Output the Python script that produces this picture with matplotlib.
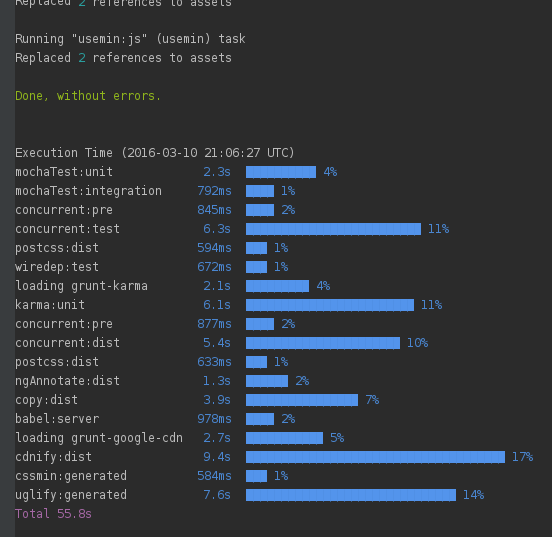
import matplotlib
matplotlib.use("Agg")
from matplotlib import pyplot as plt

# grunt time-grunt output, bar lengths counted in block characters
tasks = ["mochaTest:unit", "mochaTest:integration", "concurrent:pre", "concurrent:test",
         "postcss:dist", "wiredep:test", "loading grunt-karma", "karma:unit",
         "concurrent:pre", "concurrent:dist", "postcss:dist", "ngAnnotate:dist",
         "copy:dist", "babel:server", "loading grunt-google-cdn", "cdnify:dist",
         "cssmin:generated", "uglify:generated"]
times = ["2.3s", "792ms", "845ms", "6.3s", "594ms", "672ms", "2.1s", "6.1s", "877ms",
         "5.4s", "633ms", "1.3s", "3.9s", "978ms", "2.7s", "9.4s", "584ms", "7.6s"]
blocks = [10, 4, 4, 25, 3, 3, 9, 24, 4, 22, 3, 6, 16, 4, 11, 37, 3, 30]
percents = [4, 1, 2, 11, 1, 1, 4, 11, 2, 10, 1, 2, 7, 2, 5, 17, 1, 14]

BG = "#2b2b2b"
GUTTER = "#393c3e"
FG = "#bbbbbb"
BLUE = "#4a86d0"
BAR = "#5394ec"
SEAM = "#5090e6"
GREEN = "#8fb51c"
TEAL = "#2a9d9d"
PINK = "#a568a5"

CHAR = 7.0
LEFT = 15
FONT = 8.4
plt.rcParams["font.family"] = ["DejaVu Sans Mono"]
plt.rcParams["text.hinting"] = "native"
plt.rcParams["text.hinting_factor"] = 1

fig = plt.figure(figsize=(5.52, 5.37), dpi=100, facecolor=BG)
ax = fig.add_axes([0, 0, 1, 1])
ax.set_xlim(0, 552)
ax.set_ylim(537, 0)
ax.axis("off")

ax.axvspan(0, 14.5, color=GUTTER, lw=0)


def put(x, y, s, color=FG, ha="left"):
    ax.text(x, y + 1, s, color=color, fontsize=FONT, ha=ha, va="center")


def replaced(y):
    put(LEFT, y, "Replaced")
    put(LEFT + 9 * CHAR, y, "2", TEAL)
    put(LEFT + 11 * CHAR, y, "references to assets")


replaced(1)
put(LEFT, 38, 'Running "usemin:js" (usemin) task')
replaced(57.5)
put(LEFT, 95.5, "Done, without errors.", GREEN)
put(LEFT, 152.5, "Execution Time (2016-03-10 21:06:27 UTC)")

BAR_X = 246
for i, task in enumerate(tasks):
    y = 171.5 + 19 * i
    put(LEFT, y, task)
    put(231.5, y, times[i], BLUE, ha="right")
    ax.barh(y + 0.5, blocks[i] * CHAR, left=BAR_X, height=12, color=BAR, lw=0)
    # block characters leave a faint seam every cell
    ax.vlines([BAR_X + CHAR * k for k in range(1, blocks[i])], y - 5.5, y + 6.5, color=SEAM, lw=0.7)
    put(BAR_X + blocks[i] * CHAR + 7, y, f"{percents[i]}%", BLUE)

put(LEFT, 513, "Total 55.8s", PINK)

fig.savefig("out.png", dpi=100, facecolor=BG)
